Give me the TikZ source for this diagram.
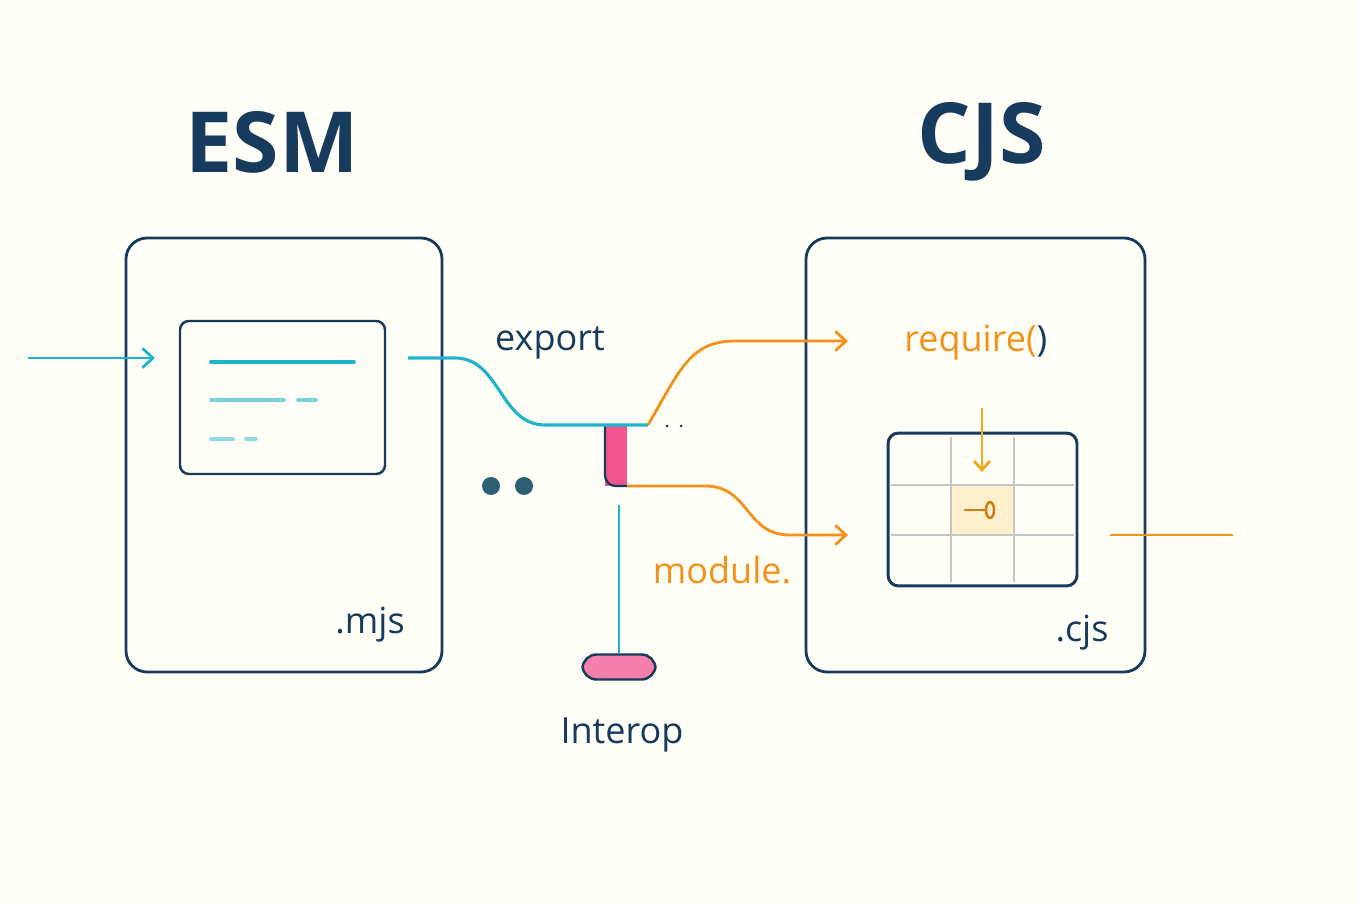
\documentclass[tikz,border=0pt]{standalone}
\usepackage{fontspec}
\setmainfont{Open Sans}
\usetikzlibrary{arrows.meta}
\definecolor{navy}{HTML}{163B5C}
\definecolor{cyanl}{HTML}{1FB3CC}
\definecolor{orng}{HTML}{F2921A}
\definecolor{pnk}{HTML}{F2568C}
\definecolor{dotc}{HTML}{2E5F73}
\begin{document}
\begin{tikzpicture}[x=0.02cm,y=-0.02cm]
        \tikzstyle{panel} = [draw=navy, line width=1.6pt, rounded corners=12pt]
        \tikzstyle{title} = [text=navy, font=\fontsize{48}{56}\selectfont\bfseries]
        \tikzstyle{label} = [font=\fontsize{20.5}{24}\selectfont]
        \tikzstyle{arrow} = [line width=1.6pt, -{Straight Barb[length=6pt,width=11pt]}]

        \fill[white!97!yellow] (0,0) rectangle (1358,905);

        % titles
        \node (esm) [title] at (272,142) {ESM};
        \node (cjs) [title] at (982,142) {CJS};

        % module panels
        \draw[panel] (126,238) rectangle (442,672);
        \draw[panel] (806,238) rectangle (1145,672);
        \node (mjs) [label, text=navy] at (370,625) {.mjs};
        \node (cjsext) [label, text=navy] at (1082,633) {.cjs};

        % source window
        \draw[navy, line width=1.4pt, rounded corners=5pt] (180,321) rectangle (385,474);
        \draw[cyanl, line width=2.2pt, line cap=round] (211,362) -- (354,362);
        \draw[cyanl!60, line width=2.2pt, line cap=round] (211,400) -- (284,400) (298,400) -- (316,400);
        \draw[cyanl!50, line width=2.2pt, line cap=round] (211,439) -- (233,439) (246,439) -- (256,439);

        \coordinate (in) at (28,358);
        \coordinate (inend) at (155,358);
        \draw[arrow, cyanl] (in) -- (inend);

        % interop switch
        \coordinate (out) at (408,358);
        \coordinate (join) at (648,425);
        \coordinate (split) at (627,486);
        \fill[pnk] (605,425) rectangle (627,486);
        \draw[navy, line width=1.3pt, rounded corners=6pt] (605,425) -- (605,486) -- (627,486);
        \draw[cyanl, line width=1.8pt] (out) -- (455,358) .. controls (500,358) and (500,425) .. (545,425) -- (join);
        \node (export) [label, text=navy] at (550,343) {export};

        \node (req) [label, anchor=west, inner sep=0pt] at (904,343) {\textcolor{orng}{require(}\textcolor{navy}{)}};
        \coordinate (reqin) at (848,341);
        \coordinate (modin) at (848,535);
        \draw[arrow, orng] (join) .. controls (680,370) and (690,341) .. (735,341) -- (reqin);
        \draw[arrow, orng] (split) -- (705,486) .. controls (750,486) and (745,535) .. (790,535) -- (modin);
        \node (module) [label, text=orng] at (722,570) {module.};

        \fill[navy] (667,426) circle (1.5) (681,426) circle (1.5);
        \fill[dotc] (491,486) circle (9) (524,486) circle (9);

        % interop handle
        \node (pill) [draw=navy, line width=1.4pt, fill=pnk!75, rounded corners=8pt, minimum width=1.46cm, minimum height=0.5cm] at (619,667) {};
        \draw[cyanl, line width=1.5pt] (619,505) -- (pill.north);
        \node (interop) [label, text=navy] at (622,735) {Interop};

        % cache grid
        \fill[yellow!45!orange!18] (951,485) rectangle (1014,535);
        \draw[gray!45, line width=1.6pt] (951,437) -- (951,582) (1014,437) -- (1014,582) (891,485) -- (1074,485) (891,535) -- (1074,535);
        \node (grid) [draw=navy, line width=1.7pt, rounded corners=6pt, minimum width=3.78cm, minimum height=3.06cm] at (982.5,509.5) {};
        \draw[orng!85!black, line width=1.6pt, line cap=round] (965,510) -- (985,510);
        \draw[orng!85!black, line width=1.4pt] (990,510) ellipse (4 and 8);
        \coordinate (key) at (982,408);
        \coordinate (keyend) at (982,472);
        \draw[line width=1.6pt, orng!80!yellow, -{Straight Barb[length=5pt,width=9pt]}] (key) -- (keyend);
        \coordinate (exitl) at (1110,535);
        \coordinate (exitr) at (1233,535);
        \draw[orng, line width=1.6pt] (exitl) -- (exitr);
\end{tikzpicture}
\end{document}
